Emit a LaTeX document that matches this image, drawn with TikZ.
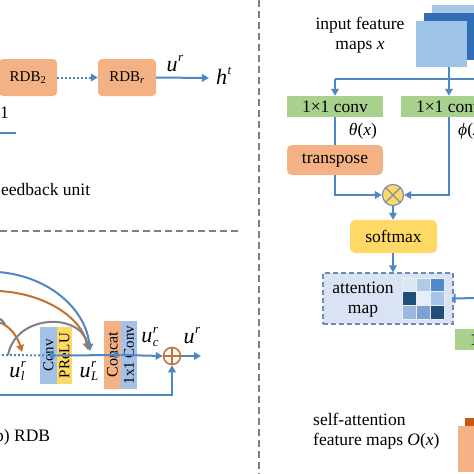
\documentclass[tikz,border=0pt]{standalone}
\usepackage{fontspec}
\setmainfont{Liberation Serif}
\usetikzlibrary{arrows.meta,calc}
\definecolor{lblue}{HTML}{4F87C5}
\definecolor{boxor}{HTML}{F4B183}
\definecolor{darkor}{HTML}{C55A11}
\definecolor{ocurve}{HTML}{C4702E}
\definecolor{gcurve}{HTML}{808080}
\definecolor{boxbl}{HTML}{A4C2E8}
\definecolor{boxye}{HTML}{FFD966}
\definecolor{boxgr}{HTML}{A9D18E}
\definecolor{sepgray}{HTML}{808080}
\definecolor{attnfill}{HTML}{DAE3F3}
\definecolor{attndraw}{HTML}{6D8BB3}
\definecolor{fmfront}{HTML}{9DC3E6}
\definecolor{fmback}{HTML}{A9C6EA}
\definecolor{fmdark}{HTML}{2F6EB5}
\definecolor{otdraw}{HTML}{7F8FA6}
\definecolor{cA}{HTML}{DCE6F2}
\definecolor{cB}{HTML}{B4C9E4}
\definecolor{cC}{HTML}{4F8BCB}
\definecolor{cD}{HTML}{1F4E79}
\definecolor{cE}{HTML}{E8EEF7}
\definecolor{cF}{HTML}{A6C4E6}
\definecolor{cG}{HTML}{9AB9E0}
\definecolor{cH}{HTML}{7FA2D6}
\tikzset{
  lab/.style={font=\fontsize{17.5}{20}\selectfont, inner sep=0pt},
  mlab/.style={font=\fontsize{22}{24}\selectfont, inner sep=0pt},
  rdbbox/.style={fill=boxor, rounded corners=4pt, minimum width=58pt, minimum height=37pt, inner sep=0pt, font=\fontsize{15}{18}\selectfont},
  vbox/.style={minimum width=#1, inner sep=0pt, rotate=90, font=\fontsize{15}{18}\selectfont},
  conn/.style={draw=lblue, line width=2pt},
  arr/.style={conn, -{Triangle[length=7pt,width=7.5pt]}},
  dotarr/.style={arr, dash pattern=on 2pt off 2pt},
  sepline/.style={draw=sepgray, line width=1.2pt, dash pattern=on 7pt off 4pt},
  gbox/.style={fill=boxgr, minimum width=96pt, minimum height=21pt, inner sep=0pt, font=\fontsize{17.5}{20}\selectfont},
  curvearr/.style={line width=2pt, -{Triangle[length=7pt,width=7.5pt]}},
}
\newcommand{\scr}[1]{{\fontsize{13}{13}\selectfont\textit{#1}}}
\newcommand{\vr}[2]{\textit{#1}\kern0.5pt\raisebox{0.45em}{\scr{#2}}}
\newcommand{\vrs}[3]{\textit{#1}\kern0.5pt\rlap{\raisebox{0.45em}{\scr{#2}}}\raisebox{-0.18em}{\scr{#3}}}
\begin{document}
\begin{tikzpicture}[x=1pt,y=-1pt]
\clip (0,0) rectangle (474,474);
\fill[white] (0,0) rectangle (474,474);

% ---------- separators ----------
\coordinate (hs1) at (0,231);
\coordinate (hs2) at (240,231);
\coordinate (vs1) at (259,0);
\coordinate (vs2) at (259,474);
\draw[sepline] (hs1) -- (hs2);
\draw[sepline] (vs1) -- (vs2);

% ---------- (a) feedback unit ----------
\node[rdbbox] (rdb2) at (28,77.5) {RDB\textsubscript{2}};
\node[rdbbox] (rdbr) at (127,77.5) {RDB\textsubscript{\textit{r}}};
\node[mlab, anchor=west] (ht) at (216,76) {\vr{h}{t}};
\node[mlab] (ura) at (175,64) {\vr{u}{r}};
\draw[dotarr] (rdb2.east) -- (rdbr.west);
\draw[arr] (rdbr.east) -- ($(ht.west)+(-7,2)$);
\node[lab, anchor=west] (one) at (0,113) {1};
\coordinate (la1) at (-2,133);
\coordinate (la2) at (16,133);
\draw[conn] (la1) -- (la2);
\node[lab, anchor=west] (capa) at (1,190) {eedback unit};

% ---------- (b) RDB ----------
\node[vbox=57pt, fill=boxbl, minimum height=17pt] (conv) at (48.5,355.5) {Conv};
\node[vbox=57pt, fill=boxye, minimum height=15pt] (prelu) at (64.5,355.5) {PReLU};
\node[vbox=68pt, fill=boxor, minimum height=17pt, font=\fontsize{16}{18}\selectfont] (concat) at (112.5,355) {Concat};
\node[vbox=68pt, fill=boxbl, minimum height=16pt] (cv11) at (129,355) {1x1 Conv};
\node[circle, draw=ocurve, line width=1.5pt, minimum size=17pt, inner sep=0pt] (plus) at (172,356) {};
\draw[ocurve, line width=1.5pt] (plus.north) -- (plus.south) (plus.west) -- (plus.east);

\coordinate (lin) at (-2,355);
\coordinate (sk) at (-2,395);
\coordinate (outb) at (201,356);
\draw[dotarr] (lin) -- (conv.south);
\draw[arr] (prelu.north) -- (concat.south);
\draw[arr] (cv11.north) -- (plus.west);
\draw[arr] (plus.east) -- (outb);
\draw[arr] (sk) -- (sk -| plus.south) -- (plus.south);

\node[mlab] (ul) at (17,371) {\vrs{u}{r}{l}};
\node[mlab] (uL) at (89,371) {\vrs{u}{r}{L}};
\node[mlab] (uc) at (150,337) {\vrs{u}{r}{c}};
\node[mlab] (urb) at (192,336) {\vr{u}{r}};

% skip curves
\coordinate (b1s) at (-2,272);
\coordinate (b1e) at (90,351);
\coordinate (o1s) at (-2,291);
\coordinate (o1e) at (88,350);
\coordinate (b2s) at (-2,318);
\coordinate (b2e) at (5,324);
\coordinate (o2s) at (-2,322);
\coordinate (o2e) at (22,352);
\coordinate (gs) at (8,355);
\coordinate (ge) at (89,350);
\draw[curvearr, lblue] (b1s) .. controls (50,276) and (86,310) .. (b1e);
\draw[curvearr, ocurve] (o1s) .. controls (45,293) and (82,318) .. (o1e);
\draw[line width=2pt, lblue] (b2s) .. controls (1,319) and (3,321) .. (b2e);
\draw[curvearr, ocurve] (o2s) .. controls (10,325) and (18,338) .. (o2e);
\draw[curvearr, gcurve] (gs) .. controls (16,314) and (80,312) .. (ge);

\node[lab, anchor=west] (capb) at (-5,437) {b) RDB};

% ---------- right panel: self-attention ----------
\fill[fmback] (432,5) rectangle (490,52);
\fill[fmdark] (424,13) rectangle (482,60);
\node[fill=fmfront, minimum width=51pt, minimum height=46pt, inner sep=0pt] (fm) at (441.5,44) {};
\node[lab, align=center] (inp) at (360,35) {input feature\\maps \textit{x}};

\node[gbox] (g1) at (335,106.5) {1×1 conv};
\node[gbox] (g2) at (449,106.5) {1×1 conv};
\coordinate (hl) at (449,79);
\coordinate (rr) at (476,79);
\draw[conn] (g2.north |- fm.south) -- (hl);
\draw[arr] (hl) -- (g2.north);
\draw[conn] (rr) -- (g1.north |- hl);
\draw[arr] (g1.north |- hl) -- (g1.north);

\node[lab] (theta) at (363,131) {\textit{θ}(\textit{x})};
\node[lab, anchor=west] (phi) at (458,131) {\textit{ϕ}(\textit{x})};

\node[fill=boxor, rounded corners=5pt, minimum width=96pt, minimum height=30pt, inner sep=0pt, font=\fontsize{17.5}{20}\selectfont] (tr) at (335,160) {transpose};
\draw[conn] (g1.south) -- (tr.north);

\node[circle, fill=boxye, draw=otdraw, line width=1.2pt, minimum size=21pt, inner sep=0pt] (ot) at (393,195) {};
\draw[otdraw, line width=1.2pt] (ot.north west) -- (ot.south east) (ot.north east) -- (ot.south west);
\draw[arr] (tr.south) -- (tr.south |- ot.west) -- (ot.west);
\draw[arr] (g2.south) -- (g2.south |- ot.east) -- (ot.east);

\node[fill=boxye, rounded corners=5pt, minimum width=87pt, minimum height=33pt, inner sep=0pt, font=\fontsize{17.5}{20}\selectfont] (sm) at (393.5,236.5) {softmax};
\draw[arr] (ot.south) -- (ot.south |- sm.north);

\node[fill=attnfill, draw=attndraw, line width=1.2pt, dash pattern=on 5pt off 3pt, minimum width=130pt, minimum height=51pt, inner sep=0pt] (attn) at (388,298.5) {};
\draw[arr] (sm.south -| ot.south) -- (ot.south |- attn.north);
\node[lab, align=center] (attxt) at (363,300) {attention\\map};

% attention grid
\foreach \c [count=\i from 0] in {cA,cB,cC,cD,cE,cF,cG,cH,cD}{
  \pgfmathtruncatemacro{\col}{mod(\i,3)}
  \pgfmathtruncatemacro{\row}{div(\i,3)}
  \fill[\c, draw=white!70!cB, line width=0.6pt] ({402+14*\col},{278+13.7*\row}) rectangle ++(14,13.7);
}

\coordinate (ar) at (476,298);
\draw[conn, -{Bar[width=9pt,line width=2pt]}] (ar) -- (attn.east);

\node[gbox] (g3) at (503,339.5) {1×1 conv};

\node[lab, align=left, anchor=north west] (sat) at (313,413) {self-attention\\feature maps \textit{O}(\textit{x})};
\fill[darkor] (465,418) rectangle (520,470);
\node[fill=boxor, minimum width=57pt, minimum height=46pt, inner sep=0pt, anchor=north west] (om) at (458,426) {};
\end{tikzpicture}
\end{document}
